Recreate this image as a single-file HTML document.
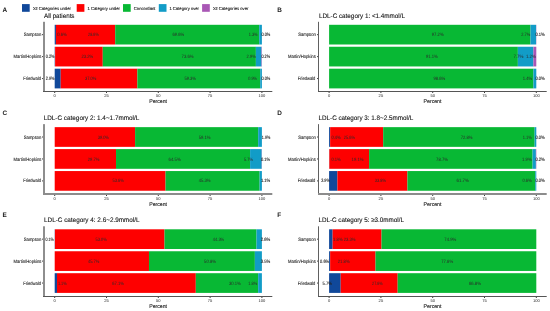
<!DOCTYPE html><html><head><meta charset="utf-8"><title>LDL-C category concordance</title>
<style>html,body{margin:0;padding:0;background:#fff;width:550px;height:311px;overflow:hidden}svg{display:block}text{text-rendering:geometricPrecision;font-family:'Liberation Sans', Arial, Helvetica, sans-serif;stroke-width:0.1px}</style></head><body>
<svg width="550" height="311" viewBox="0 0 550 311">
<rect width="550" height="311" fill="#fff"/>
<rect x="22" y="4.1" width="7.7" height="7.7" fill="#10489a"/>
<text x="51.9" y="10" font-size="4.4" text-anchor="middle" textLength="38" lengthAdjust="spacingAndGlyphs" fill="#111" stroke="#111">≥2 Categories under</text>
<rect x="76.7" y="4.1" width="7.7" height="7.7" fill="#fe0000"/>
<text x="103.65" y="10" font-size="4.4" text-anchor="middle" textLength="32.5" lengthAdjust="spacingAndGlyphs" fill="#111" stroke="#111">1 Category under</text>
<rect x="123" y="4.1" width="7.7" height="7.7" fill="#08b834"/>
<text x="144.65" y="10" font-size="4.4" text-anchor="middle" textLength="21.7" lengthAdjust="spacingAndGlyphs" fill="#111" stroke="#111">Concordant</text>
<rect x="158.8" y="4.1" width="7.7" height="7.7" fill="#129cc7"/>
<text x="184.2" y="10" font-size="4.4" text-anchor="middle" textLength="29.6" lengthAdjust="spacingAndGlyphs" fill="#111" stroke="#111">1 Category over</text>
<rect x="202.1" y="4.1" width="7.7" height="7.7" fill="#a957b5"/>
<text x="230.7" y="10" font-size="4.4" text-anchor="middle" textLength="35.6" lengthAdjust="spacingAndGlyphs" fill="#111" stroke="#111">≥2 Categories over</text>
<g>
<text x="2.6" y="12" font-size="6.4" font-weight="bold" fill="#1a1a1a">A</text>
<text x="59.25" y="18" font-size="6.6" text-anchor="middle" textLength="30.5" lengthAdjust="spacingAndGlyphs" fill="#111" stroke="#111">All patients</text>
<rect x="54.7" y="24.8" width="1.24" height="19.7" fill="#10489a"/>
<rect x="55.94" y="24.8" width="59.26" height="19.7" fill="#fe0000"/>
<rect x="115.2" y="24.8" width="144" height="19.7" fill="#08b834"/>
<rect x="259.21" y="24.8" width="2.69" height="19.7" fill="#129cc7"/>
<rect x="54.7" y="46.75" width="0.41" height="19.7" fill="#10489a"/>
<rect x="55.11" y="46.75" width="47.66" height="19.7" fill="#fe0000"/>
<rect x="102.77" y="46.75" width="153.12" height="19.7" fill="#08b834"/>
<rect x="255.89" y="46.75" width="5.59" height="19.7" fill="#129cc7"/>
<rect x="261.49" y="46.75" width="0.41" height="19.7" fill="#a957b5"/>
<rect x="54.7" y="68.7" width="6.01" height="19.7" fill="#10489a"/>
<rect x="60.71" y="68.7" width="76.66" height="19.7" fill="#fe0000"/>
<rect x="137.37" y="68.7" width="122.87" height="19.7" fill="#08b834"/>
<rect x="260.24" y="68.7" width="1.66" height="19.7" fill="#129cc7"/>
<text x="62" y="36" font-size="4.8" text-anchor="middle" textLength="9.4" lengthAdjust="spacingAndGlyphs" fill="#2a2a2a">0.6%</text>
<text x="93.45" y="36" font-size="4.8" text-anchor="middle" textLength="10.7" lengthAdjust="spacingAndGlyphs" fill="#2a2a2a">28.6%</text>
<text x="178.35" y="36" font-size="4.8" text-anchor="middle" textLength="11.7" lengthAdjust="spacingAndGlyphs" fill="#2a2a2a">69.6%</text>
<text x="253.15" y="36" font-size="4.8" text-anchor="middle" textLength="8.9" lengthAdjust="spacingAndGlyphs" fill="#2a2a2a">1.3%</text>
<text x="265.85" y="36" font-size="4.8" text-anchor="middle" textLength="8.9" lengthAdjust="spacingAndGlyphs" fill="#222" stroke="#222">0.0%</text>
<text x="50.1" y="58" font-size="4.8" text-anchor="middle" textLength="8.8" lengthAdjust="spacingAndGlyphs" fill="#222" stroke="#222">0.2%</text>
<text x="87.3" y="58" font-size="4.8" text-anchor="middle" textLength="11.6" lengthAdjust="spacingAndGlyphs" fill="#2a2a2a">23.2%</text>
<text x="187.6" y="58" font-size="4.8" text-anchor="middle" textLength="12" lengthAdjust="spacingAndGlyphs" fill="#2a2a2a">73.6%</text>
<text x="251.25" y="58" font-size="4.8" text-anchor="middle" textLength="9.3" lengthAdjust="spacingAndGlyphs" fill="#2a2a2a">2.9%</text>
<text x="265.7" y="58" font-size="4.8" text-anchor="middle" textLength="8.6" lengthAdjust="spacingAndGlyphs" fill="#222" stroke="#222">0.2%</text>
<text x="50.1" y="80" font-size="4.8" text-anchor="middle" textLength="8.8" lengthAdjust="spacingAndGlyphs" fill="#222" stroke="#222">2.9%</text>
<text x="90.7" y="80" font-size="4.8" text-anchor="middle" textLength="11.4" lengthAdjust="spacingAndGlyphs" fill="#2a2a2a">37.0%</text>
<text x="190.2" y="80" font-size="4.8" text-anchor="middle" textLength="11.6" lengthAdjust="spacingAndGlyphs" fill="#2a2a2a">59.3%</text>
<text x="252.65" y="80" font-size="4.8" text-anchor="middle" textLength="8.7" lengthAdjust="spacingAndGlyphs" fill="#2a2a2a">0.9%</text>
<text x="265.85" y="80" font-size="4.8" text-anchor="middle" textLength="8.9" lengthAdjust="spacingAndGlyphs" fill="#222" stroke="#222">0.0%</text>
<rect x="43" y="21.8" width="2" height="69.2" fill="#8e8e8e"/>
<rect x="43" y="91" width="229.3" height="1" fill="#555"/>
<rect x="42" y="34.15" width="1" height="1" fill="#444"/>
<text x="32.6" y="36" font-size="4.8" text-anchor="middle" textLength="17.6" lengthAdjust="spacingAndGlyphs" fill="#222" stroke="#222">Sampson</text>
<rect x="42" y="56.1" width="1" height="1" fill="#444"/>
<text x="27.45" y="58" font-size="4.8" text-anchor="middle" textLength="27.9" lengthAdjust="spacingAndGlyphs" fill="#222" stroke="#222">Martin/Hopkins</text>
<rect x="42" y="78.05" width="1" height="1" fill="#444"/>
<text x="32.15" y="80" font-size="4.8" text-anchor="middle" textLength="17.7" lengthAdjust="spacingAndGlyphs" fill="#222" stroke="#222">Friedwald</text>
<rect x="54.2" y="92" width="1" height="1" fill="#3a3a3a"/>
<text x="54.7" y="97" font-size="4.1" text-anchor="middle" fill="#2a2a2a">0</text>
<rect x="106" y="92" width="1" height="1" fill="#3a3a3a"/>
<text x="106.5" y="97" font-size="4.1" text-anchor="middle" fill="#2a2a2a">25</text>
<rect x="157.8" y="92" width="1" height="1" fill="#3a3a3a"/>
<text x="158.3" y="97" font-size="4.1" text-anchor="middle" fill="#2a2a2a">50</text>
<rect x="209.6" y="92" width="1" height="1" fill="#3a3a3a"/>
<text x="210.1" y="97" font-size="4.1" text-anchor="middle" fill="#2a2a2a">75</text>
<rect x="261.4" y="92" width="1" height="1" fill="#3a3a3a"/>
<text x="261.9" y="97" font-size="4.1" text-anchor="middle" fill="#2a2a2a">100</text>
<text x="158.1" y="103" font-size="5.4" text-anchor="middle" textLength="17.8" lengthAdjust="spacingAndGlyphs" fill="#111" stroke="#111">Percent</text>
</g>
<g>
<text x="277.3" y="12" font-size="6.4" font-weight="bold" fill="#1a1a1a">B</text>
<text x="362" y="18" font-size="6.6" text-anchor="middle" textLength="86" lengthAdjust="spacingAndGlyphs" fill="#111" stroke="#111">LDL-C category 1: <1.4mmol/L</text>
<rect x="329.1" y="24.8" width="201.4" height="19.7" fill="#08b834"/>
<rect x="530.5" y="24.8" width="5.59" height="19.7" fill="#129cc7"/>
<rect x="536.09" y="24.8" width="0.21" height="19.7" fill="#a957b5"/>
<rect x="329.1" y="46.75" width="188.76" height="19.7" fill="#08b834"/>
<rect x="517.86" y="46.75" width="15.54" height="19.7" fill="#129cc7"/>
<rect x="533.4" y="46.75" width="2.9" height="19.7" fill="#a957b5"/>
<rect x="329.1" y="68.7" width="204.3" height="19.7" fill="#08b834"/>
<rect x="533.4" y="68.7" width="2.9" height="19.7" fill="#129cc7"/>
<text x="437.7" y="36" font-size="4.8" text-anchor="middle" textLength="11.8" lengthAdjust="spacingAndGlyphs" fill="#2a2a2a">97.2%</text>
<text x="525.7" y="36" font-size="4.8" text-anchor="middle" textLength="9" lengthAdjust="spacingAndGlyphs" fill="#2a2a2a">2.7%</text>
<text x="540.1" y="36" font-size="4.8" text-anchor="middle" textLength="9.4" lengthAdjust="spacingAndGlyphs" fill="#222" stroke="#222">0.1%</text>
<text x="431.8" y="58" font-size="4.8" text-anchor="middle" textLength="11.8" lengthAdjust="spacingAndGlyphs" fill="#2a2a2a">91.1%</text>
<text x="518.45" y="58" font-size="4.8" text-anchor="middle" textLength="10.1" lengthAdjust="spacingAndGlyphs" fill="#2a2a2a">7.7%</text>
<text x="530.85" y="58" font-size="4.8" text-anchor="middle" textLength="9.9" lengthAdjust="spacingAndGlyphs" fill="#2a2a2a">1.2%</text>
<text x="439.4" y="80" font-size="4.8" text-anchor="middle" textLength="11.8" lengthAdjust="spacingAndGlyphs" fill="#2a2a2a">98.6%</text>
<text x="527.55" y="80" font-size="4.8" text-anchor="middle" textLength="9.5" lengthAdjust="spacingAndGlyphs" fill="#2a2a2a">1.4%</text>
<text x="540.1" y="80" font-size="4.8" text-anchor="middle" textLength="9.4" lengthAdjust="spacingAndGlyphs" fill="#222" stroke="#222">0.0%</text>
<rect x="318" y="21.8" width="1" height="69.2" fill="#606060"/>
<rect x="318" y="91" width="228.7" height="1" fill="#555"/>
<rect x="317" y="34.15" width="1" height="1" fill="#444"/>
<text x="307" y="36" font-size="4.8" text-anchor="middle" textLength="17.6" lengthAdjust="spacingAndGlyphs" fill="#222" stroke="#222">Sampson</text>
<rect x="317" y="56.1" width="1" height="1" fill="#444"/>
<text x="301.85" y="58" font-size="4.8" text-anchor="middle" textLength="27.9" lengthAdjust="spacingAndGlyphs" fill="#222" stroke="#222">Martin/Hopkins</text>
<rect x="317" y="78.05" width="1" height="1" fill="#444"/>
<text x="306.55" y="80" font-size="4.8" text-anchor="middle" textLength="17.7" lengthAdjust="spacingAndGlyphs" fill="#222" stroke="#222">Friedwald</text>
<rect x="328.6" y="92" width="1" height="1" fill="#3a3a3a"/>
<text x="329.1" y="97" font-size="4.1" text-anchor="middle" fill="#2a2a2a">0</text>
<rect x="380.4" y="92" width="1" height="1" fill="#3a3a3a"/>
<text x="380.9" y="97" font-size="4.1" text-anchor="middle" fill="#2a2a2a">25</text>
<rect x="432.2" y="92" width="1" height="1" fill="#3a3a3a"/>
<text x="432.7" y="97" font-size="4.1" text-anchor="middle" fill="#2a2a2a">50</text>
<rect x="484" y="92" width="1" height="1" fill="#3a3a3a"/>
<text x="484.5" y="97" font-size="4.1" text-anchor="middle" fill="#2a2a2a">75</text>
<rect x="535.8" y="92" width="1" height="1" fill="#3a3a3a"/>
<text x="536.3" y="97" font-size="4.1" text-anchor="middle" fill="#2a2a2a">100</text>
<text x="432.5" y="103" font-size="5.4" text-anchor="middle" textLength="17.8" lengthAdjust="spacingAndGlyphs" fill="#111" stroke="#111">Percent</text>
</g>
<g>
<text x="2.6" y="115" font-size="6.4" font-weight="bold" fill="#1a1a1a">C</text>
<text x="91.5" y="120" font-size="6.6" text-anchor="middle" textLength="95.6" lengthAdjust="spacingAndGlyphs" fill="#111" stroke="#111">LDL-C category 2: 1.4~1.7mmol/L</text>
<rect x="54.7" y="127.15" width="80.39" height="19.7" fill="#fe0000"/>
<rect x="135.09" y="127.15" width="123.08" height="19.7" fill="#08b834"/>
<rect x="258.17" y="127.15" width="3.73" height="19.7" fill="#129cc7"/>
<rect x="54.7" y="149.1" width="61.33" height="19.7" fill="#fe0000"/>
<rect x="116.03" y="149.1" width="134.06" height="19.7" fill="#08b834"/>
<rect x="250.09" y="149.1" width="11.6" height="19.7" fill="#129cc7"/>
<rect x="261.69" y="149.1" width="0.21" height="19.7" fill="#a957b5"/>
<rect x="54.7" y="171.05" width="110.85" height="19.7" fill="#fe0000"/>
<rect x="165.55" y="171.05" width="94.07" height="19.7" fill="#08b834"/>
<rect x="259.62" y="171.05" width="2.28" height="19.7" fill="#129cc7"/>
<text x="103.3" y="139" font-size="4.8" text-anchor="middle" textLength="11.2" lengthAdjust="spacingAndGlyphs" fill="#2a2a2a">39.0%</text>
<text x="204.65" y="139" font-size="4.8" text-anchor="middle" textLength="11.9" lengthAdjust="spacingAndGlyphs" fill="#2a2a2a">59.1%</text>
<text x="266.05" y="139" font-size="4.8" text-anchor="middle" textLength="8.5" lengthAdjust="spacingAndGlyphs" fill="#222" stroke="#222">1.9%</text>
<text x="93.65" y="161" font-size="4.8" text-anchor="middle" textLength="11.7" lengthAdjust="spacingAndGlyphs" fill="#2a2a2a">29.7%</text>
<text x="174.65" y="161" font-size="4.8" text-anchor="middle" textLength="12.1" lengthAdjust="spacingAndGlyphs" fill="#2a2a2a">64.5%</text>
<text x="248.5" y="161" font-size="4.8" text-anchor="middle" textLength="9" lengthAdjust="spacingAndGlyphs" fill="#2a2a2a">5.7%</text>
<text x="265.45" y="161" font-size="4.8" text-anchor="middle" textLength="9.1" lengthAdjust="spacingAndGlyphs" fill="#222" stroke="#222">0.1%</text>
<text x="118.15" y="182" font-size="4.8" text-anchor="middle" textLength="11.3" lengthAdjust="spacingAndGlyphs" fill="#2a2a2a">53.6%</text>
<text x="204.65" y="182" font-size="4.8" text-anchor="middle" textLength="11.9" lengthAdjust="spacingAndGlyphs" fill="#2a2a2a">45.3%</text>
<text x="265.6" y="182" font-size="4.8" text-anchor="middle" textLength="9.4" lengthAdjust="spacingAndGlyphs" fill="#222" stroke="#222">1.1%</text>
<rect x="43" y="124.15" width="2" height="68.85" fill="#8e8e8e"/>
<rect x="43" y="193" width="229.3" height="2" fill="#8c8c8c"/>
<rect x="42" y="136.5" width="1" height="1" fill="#444"/>
<text x="32.6" y="139" font-size="4.8" text-anchor="middle" textLength="17.6" lengthAdjust="spacingAndGlyphs" fill="#222" stroke="#222">Sampson</text>
<rect x="42" y="158.45" width="1" height="1" fill="#444"/>
<text x="27.45" y="161" font-size="4.8" text-anchor="middle" textLength="27.9" lengthAdjust="spacingAndGlyphs" fill="#222" stroke="#222">Martin/Hopkins</text>
<rect x="42" y="180.4" width="1" height="1" fill="#444"/>
<text x="32.15" y="182" font-size="4.8" text-anchor="middle" textLength="17.7" lengthAdjust="spacingAndGlyphs" fill="#222" stroke="#222">Friedwald</text>
<rect x="54.2" y="195" width="1" height="1" fill="#3a3a3a"/>
<text x="54.7" y="200" font-size="4.1" text-anchor="middle" fill="#2a2a2a">0</text>
<rect x="106" y="195" width="1" height="1" fill="#3a3a3a"/>
<text x="106.5" y="200" font-size="4.1" text-anchor="middle" fill="#2a2a2a">25</text>
<rect x="157.8" y="195" width="1" height="1" fill="#3a3a3a"/>
<text x="158.3" y="200" font-size="4.1" text-anchor="middle" fill="#2a2a2a">50</text>
<rect x="209.6" y="195" width="1" height="1" fill="#3a3a3a"/>
<text x="210.1" y="200" font-size="4.1" text-anchor="middle" fill="#2a2a2a">75</text>
<rect x="261.4" y="195" width="1" height="1" fill="#3a3a3a"/>
<text x="261.9" y="200" font-size="4.1" text-anchor="middle" fill="#2a2a2a">100</text>
<text x="158.1" y="206" font-size="5.4" text-anchor="middle" textLength="17.8" lengthAdjust="spacingAndGlyphs" fill="#111" stroke="#111">Percent</text>
</g>
<g>
<text x="277.3" y="115" font-size="6.4" font-weight="bold" fill="#1a1a1a">D</text>
<text x="365.85" y="120" font-size="6.6" text-anchor="middle" textLength="94.7" lengthAdjust="spacingAndGlyphs" fill="#111" stroke="#111">LDL-C category 3: 1.8~2.5mmol/L</text>
<rect x="329.1" y="127.15" width="1.04" height="19.7" fill="#10489a"/>
<rect x="330.14" y="127.15" width="53.04" height="19.7" fill="#fe0000"/>
<rect x="383.18" y="127.15" width="151.46" height="19.7" fill="#08b834"/>
<rect x="534.64" y="127.15" width="1.66" height="19.7" fill="#129cc7"/>
<rect x="329.1" y="149.1" width="0.21" height="19.7" fill="#10489a"/>
<rect x="329.31" y="149.1" width="39.78" height="19.7" fill="#fe0000"/>
<rect x="369.09" y="149.1" width="163.48" height="19.7" fill="#08b834"/>
<rect x="532.57" y="149.1" width="3.32" height="19.7" fill="#129cc7"/>
<rect x="535.89" y="149.1" width="0.41" height="19.7" fill="#a957b5"/>
<rect x="329.1" y="171.05" width="8.29" height="19.7" fill="#10489a"/>
<rect x="337.39" y="171.05" width="70.03" height="19.7" fill="#fe0000"/>
<rect x="407.42" y="171.05" width="127.84" height="19.7" fill="#08b834"/>
<rect x="535.26" y="171.05" width="1.04" height="19.7" fill="#129cc7"/>
<text x="336.1" y="139" font-size="4.8" text-anchor="middle" textLength="9.4" lengthAdjust="spacingAndGlyphs" fill="#2a2a2a">0.4%</text>
<text x="349.35" y="139" font-size="4.8" text-anchor="middle" textLength="11.3" lengthAdjust="spacingAndGlyphs" fill="#2a2a2a">25.6%</text>
<text x="466.6" y="139" font-size="4.8" text-anchor="middle" textLength="11.8" lengthAdjust="spacingAndGlyphs" fill="#2a2a2a">72.8%</text>
<text x="527.3" y="139" font-size="4.8" text-anchor="middle" textLength="9" lengthAdjust="spacingAndGlyphs" fill="#2a2a2a">1.1%</text>
<text x="540.1" y="139" font-size="4.8" text-anchor="middle" textLength="9.4" lengthAdjust="spacingAndGlyphs" fill="#222" stroke="#222">0.0%</text>
<text x="336.1" y="161" font-size="4.8" text-anchor="middle" textLength="9.4" lengthAdjust="spacingAndGlyphs" fill="#2a2a2a">0.1%</text>
<text x="357.55" y="161" font-size="4.8" text-anchor="middle" textLength="11.9" lengthAdjust="spacingAndGlyphs" fill="#2a2a2a">19.1%</text>
<text x="442" y="161" font-size="4.8" text-anchor="middle" textLength="11.8" lengthAdjust="spacingAndGlyphs" fill="#2a2a2a">78.7%</text>
<text x="526.85" y="161" font-size="4.8" text-anchor="middle" textLength="9.5" lengthAdjust="spacingAndGlyphs" fill="#2a2a2a">1.9%</text>
<text x="540.1" y="161" font-size="4.8" text-anchor="middle" textLength="9.4" lengthAdjust="spacingAndGlyphs" fill="#222" stroke="#222">0.2%</text>
<text x="325.5" y="182" font-size="4.8" text-anchor="middle" textLength="8.6" lengthAdjust="spacingAndGlyphs" fill="#222" stroke="#222">3.9%</text>
<text x="380.4" y="182" font-size="4.8" text-anchor="middle" textLength="11.2" lengthAdjust="spacingAndGlyphs" fill="#2a2a2a">33.8%</text>
<text x="462.75" y="182" font-size="4.8" text-anchor="middle" textLength="12.3" lengthAdjust="spacingAndGlyphs" fill="#2a2a2a">61.7%</text>
<text x="527.1" y="182" font-size="4.8" text-anchor="middle" textLength="9.4" lengthAdjust="spacingAndGlyphs" fill="#2a2a2a">0.6%</text>
<text x="540.1" y="182" font-size="4.8" text-anchor="middle" textLength="9.4" lengthAdjust="spacingAndGlyphs" fill="#222" stroke="#222">0.0%</text>
<rect x="318" y="124.15" width="1" height="68.85" fill="#606060"/>
<rect x="318" y="193" width="228.7" height="2" fill="#8c8c8c"/>
<rect x="317" y="136.5" width="1" height="1" fill="#444"/>
<text x="307" y="139" font-size="4.8" text-anchor="middle" textLength="17.6" lengthAdjust="spacingAndGlyphs" fill="#222" stroke="#222">Sampson</text>
<rect x="317" y="158.45" width="1" height="1" fill="#444"/>
<text x="301.85" y="161" font-size="4.8" text-anchor="middle" textLength="27.9" lengthAdjust="spacingAndGlyphs" fill="#222" stroke="#222">Martin/Hopkins</text>
<rect x="317" y="180.4" width="1" height="1" fill="#444"/>
<text x="306.55" y="182" font-size="4.8" text-anchor="middle" textLength="17.7" lengthAdjust="spacingAndGlyphs" fill="#222" stroke="#222">Friedwald</text>
<rect x="328.6" y="195" width="1" height="1" fill="#3a3a3a"/>
<text x="329.1" y="200" font-size="4.1" text-anchor="middle" fill="#2a2a2a">0</text>
<rect x="380.4" y="195" width="1" height="1" fill="#3a3a3a"/>
<text x="380.9" y="200" font-size="4.1" text-anchor="middle" fill="#2a2a2a">25</text>
<rect x="432.2" y="195" width="1" height="1" fill="#3a3a3a"/>
<text x="432.7" y="200" font-size="4.1" text-anchor="middle" fill="#2a2a2a">50</text>
<rect x="484" y="195" width="1" height="1" fill="#3a3a3a"/>
<text x="484.5" y="200" font-size="4.1" text-anchor="middle" fill="#2a2a2a">75</text>
<rect x="535.8" y="195" width="1" height="1" fill="#3a3a3a"/>
<text x="536.3" y="200" font-size="4.1" text-anchor="middle" fill="#2a2a2a">100</text>
<text x="432.5" y="206" font-size="5.4" text-anchor="middle" textLength="17.8" lengthAdjust="spacingAndGlyphs" fill="#111" stroke="#111">Percent</text>
</g>
<g>
<text x="2.6" y="217" font-size="6.4" font-weight="bold" fill="#1a1a1a">E</text>
<text x="91.8" y="222" font-size="6.6" text-anchor="middle" textLength="95.6" lengthAdjust="spacingAndGlyphs" fill="#111" stroke="#111">LDL-C category 4: 2.6~2.9mmol/L</text>
<rect x="54.7" y="229.3" width="0.21" height="19.7" fill="#10489a"/>
<rect x="54.91" y="229.3" width="109.61" height="19.7" fill="#fe0000"/>
<rect x="164.52" y="229.3" width="92" height="19.7" fill="#08b834"/>
<rect x="256.51" y="229.3" width="5.39" height="19.7" fill="#129cc7"/>
<rect x="54.7" y="251.25" width="94.28" height="19.7" fill="#fe0000"/>
<rect x="148.98" y="251.25" width="105.88" height="19.7" fill="#08b834"/>
<rect x="254.86" y="251.25" width="7.04" height="19.7" fill="#129cc7"/>
<rect x="54.7" y="273.2" width="2.28" height="19.7" fill="#10489a"/>
<rect x="56.98" y="273.2" width="138.82" height="19.7" fill="#fe0000"/>
<rect x="195.8" y="273.2" width="62.37" height="19.7" fill="#08b834"/>
<rect x="258.17" y="273.2" width="3.73" height="19.7" fill="#129cc7"/>
<text x="49.5" y="241" font-size="4.8" text-anchor="middle" textLength="8.2" lengthAdjust="spacingAndGlyphs" fill="#222" stroke="#222">0.1%</text>
<text x="101.15" y="241" font-size="4.8" text-anchor="middle" textLength="11.3" lengthAdjust="spacingAndGlyphs" fill="#2a2a2a">53.0%</text>
<text x="218.5" y="241" font-size="4.8" text-anchor="middle" textLength="11.4" lengthAdjust="spacingAndGlyphs" fill="#2a2a2a">44.3%</text>
<text x="265.55" y="241" font-size="4.8" text-anchor="middle" textLength="9.5" lengthAdjust="spacingAndGlyphs" fill="#222" stroke="#222">2.6%</text>
<text x="93.6" y="263" font-size="4.8" text-anchor="middle" textLength="11.4" lengthAdjust="spacingAndGlyphs" fill="#2a2a2a">45.7%</text>
<text x="210" y="263" font-size="4.8" text-anchor="middle" textLength="11.8" lengthAdjust="spacingAndGlyphs" fill="#2a2a2a">50.8%</text>
<text x="265.55" y="263" font-size="4.8" text-anchor="middle" textLength="9.5" lengthAdjust="spacingAndGlyphs" fill="#222" stroke="#222">3.5%</text>
<text x="62.25" y="285" font-size="4.8" text-anchor="middle" textLength="8.7" lengthAdjust="spacingAndGlyphs" fill="#2a2a2a">1.1%</text>
<text x="118.1" y="285" font-size="4.8" text-anchor="middle" textLength="11.6" lengthAdjust="spacingAndGlyphs" fill="#2a2a2a">67.1%</text>
<text x="234.8" y="285" font-size="4.8" text-anchor="middle" textLength="11.8" lengthAdjust="spacingAndGlyphs" fill="#2a2a2a">30.1%</text>
<text x="252.8" y="285" font-size="4.8" text-anchor="middle" textLength="9" lengthAdjust="spacingAndGlyphs" fill="#2a2a2a">1.8%</text>
<rect x="43" y="226.3" width="2" height="69.7" fill="#8e8e8e"/>
<rect x="43" y="296" width="229.3" height="1" fill="#555"/>
<rect x="42" y="238.65" width="1" height="1" fill="#444"/>
<text x="32.6" y="241" font-size="4.8" text-anchor="middle" textLength="17.6" lengthAdjust="spacingAndGlyphs" fill="#222" stroke="#222">Sampson</text>
<rect x="42" y="260.6" width="1" height="1" fill="#444"/>
<text x="27.45" y="263" font-size="4.8" text-anchor="middle" textLength="27.9" lengthAdjust="spacingAndGlyphs" fill="#222" stroke="#222">Martin/Hopkins</text>
<rect x="42" y="282.55" width="1" height="1" fill="#444"/>
<text x="32.15" y="285" font-size="4.8" text-anchor="middle" textLength="17.7" lengthAdjust="spacingAndGlyphs" fill="#222" stroke="#222">Friedwald</text>
<rect x="54.2" y="297" width="1" height="1" fill="#3a3a3a"/>
<text x="54.7" y="302" font-size="4.1" text-anchor="middle" fill="#2a2a2a">0</text>
<rect x="106" y="297" width="1" height="1" fill="#3a3a3a"/>
<text x="106.5" y="302" font-size="4.1" text-anchor="middle" fill="#2a2a2a">25</text>
<rect x="157.8" y="297" width="1" height="1" fill="#3a3a3a"/>
<text x="158.3" y="302" font-size="4.1" text-anchor="middle" fill="#2a2a2a">50</text>
<rect x="209.6" y="297" width="1" height="1" fill="#3a3a3a"/>
<text x="210.1" y="302" font-size="4.1" text-anchor="middle" fill="#2a2a2a">75</text>
<rect x="261.4" y="297" width="1" height="1" fill="#3a3a3a"/>
<text x="261.9" y="302" font-size="4.1" text-anchor="middle" fill="#2a2a2a">100</text>
<text x="158.1" y="308" font-size="5.4" text-anchor="middle" textLength="17.8" lengthAdjust="spacingAndGlyphs" fill="#111" stroke="#111">Percent</text>
</g>
<g>
<text x="277.3" y="217" font-size="6.4" font-weight="bold" fill="#1a1a1a">F</text>
<text x="361.2" y="222" font-size="6.6" text-anchor="middle" textLength="85.6" lengthAdjust="spacingAndGlyphs" fill="#111" stroke="#111">LDL-C category 5: ≥3.0mmol/L</text>
<rect x="329.1" y="229.3" width="3.52" height="19.7" fill="#10489a"/>
<rect x="332.62" y="229.3" width="48.9" height="19.7" fill="#fe0000"/>
<rect x="381.52" y="229.3" width="154.78" height="19.7" fill="#08b834"/>
<rect x="329.1" y="251.25" width="1.04" height="19.7" fill="#10489a"/>
<rect x="330.14" y="251.25" width="45.38" height="19.7" fill="#fe0000"/>
<rect x="375.51" y="251.25" width="160.79" height="19.7" fill="#08b834"/>
<rect x="329.1" y="273.2" width="11.6" height="19.7" fill="#10489a"/>
<rect x="340.7" y="273.2" width="56.98" height="19.7" fill="#fe0000"/>
<rect x="397.68" y="273.2" width="138.62" height="19.7" fill="#08b834"/>
<text x="337.85" y="241" font-size="4.8" text-anchor="middle" textLength="9.5" lengthAdjust="spacingAndGlyphs" fill="#2a2a2a">1.8%</text>
<text x="349.65" y="241" font-size="4.8" text-anchor="middle" textLength="11.9" lengthAdjust="spacingAndGlyphs" fill="#2a2a2a">23.3%</text>
<text x="450.25" y="241" font-size="4.8" text-anchor="middle" textLength="11.9" lengthAdjust="spacingAndGlyphs" fill="#2a2a2a">74.9%</text>
<text x="324.6" y="263" font-size="4.8" text-anchor="middle" textLength="9" lengthAdjust="spacingAndGlyphs" fill="#222" stroke="#222">0.6%</text>
<text x="343.7" y="263" font-size="4.8" text-anchor="middle" textLength="11.8" lengthAdjust="spacingAndGlyphs" fill="#2a2a2a">21.8%</text>
<text x="447.2" y="263" font-size="4.8" text-anchor="middle" textLength="11.8" lengthAdjust="spacingAndGlyphs" fill="#2a2a2a">77.6%</text>
<text x="327.2" y="285" font-size="4.8" text-anchor="middle" textLength="9.4" lengthAdjust="spacingAndGlyphs" fill="#222" stroke="#222">5.7%</text>
<text x="377.4" y="285" font-size="4.8" text-anchor="middle" textLength="10.6" lengthAdjust="spacingAndGlyphs" fill="#2a2a2a">27.6%</text>
<text x="474.95" y="285" font-size="4.8" text-anchor="middle" textLength="12.1" lengthAdjust="spacingAndGlyphs" fill="#2a2a2a">66.8%</text>
<rect x="318" y="226.3" width="1" height="69.7" fill="#606060"/>
<rect x="318" y="296" width="228.7" height="1" fill="#555"/>
<rect x="317" y="238.65" width="1" height="1" fill="#444"/>
<text x="307" y="241" font-size="4.8" text-anchor="middle" textLength="17.6" lengthAdjust="spacingAndGlyphs" fill="#222" stroke="#222">Sampson</text>
<rect x="317" y="260.6" width="1" height="1" fill="#444"/>
<text x="301.85" y="263" font-size="4.8" text-anchor="middle" textLength="27.9" lengthAdjust="spacingAndGlyphs" fill="#222" stroke="#222">Martin/Hopkins</text>
<rect x="317" y="282.55" width="1" height="1" fill="#444"/>
<text x="306.55" y="285" font-size="4.8" text-anchor="middle" textLength="17.7" lengthAdjust="spacingAndGlyphs" fill="#222" stroke="#222">Friedwald</text>
<rect x="328.6" y="297" width="1" height="1" fill="#3a3a3a"/>
<text x="329.1" y="302" font-size="4.1" text-anchor="middle" fill="#2a2a2a">0</text>
<rect x="380.4" y="297" width="1" height="1" fill="#3a3a3a"/>
<text x="380.9" y="302" font-size="4.1" text-anchor="middle" fill="#2a2a2a">25</text>
<rect x="432.2" y="297" width="1" height="1" fill="#3a3a3a"/>
<text x="432.7" y="302" font-size="4.1" text-anchor="middle" fill="#2a2a2a">50</text>
<rect x="484" y="297" width="1" height="1" fill="#3a3a3a"/>
<text x="484.5" y="302" font-size="4.1" text-anchor="middle" fill="#2a2a2a">75</text>
<rect x="535.8" y="297" width="1" height="1" fill="#3a3a3a"/>
<text x="536.3" y="302" font-size="4.1" text-anchor="middle" fill="#2a2a2a">100</text>
<text x="432.5" y="308" font-size="5.4" text-anchor="middle" textLength="17.8" lengthAdjust="spacingAndGlyphs" fill="#111" stroke="#111">Percent</text>
</g>
</svg></body></html>
